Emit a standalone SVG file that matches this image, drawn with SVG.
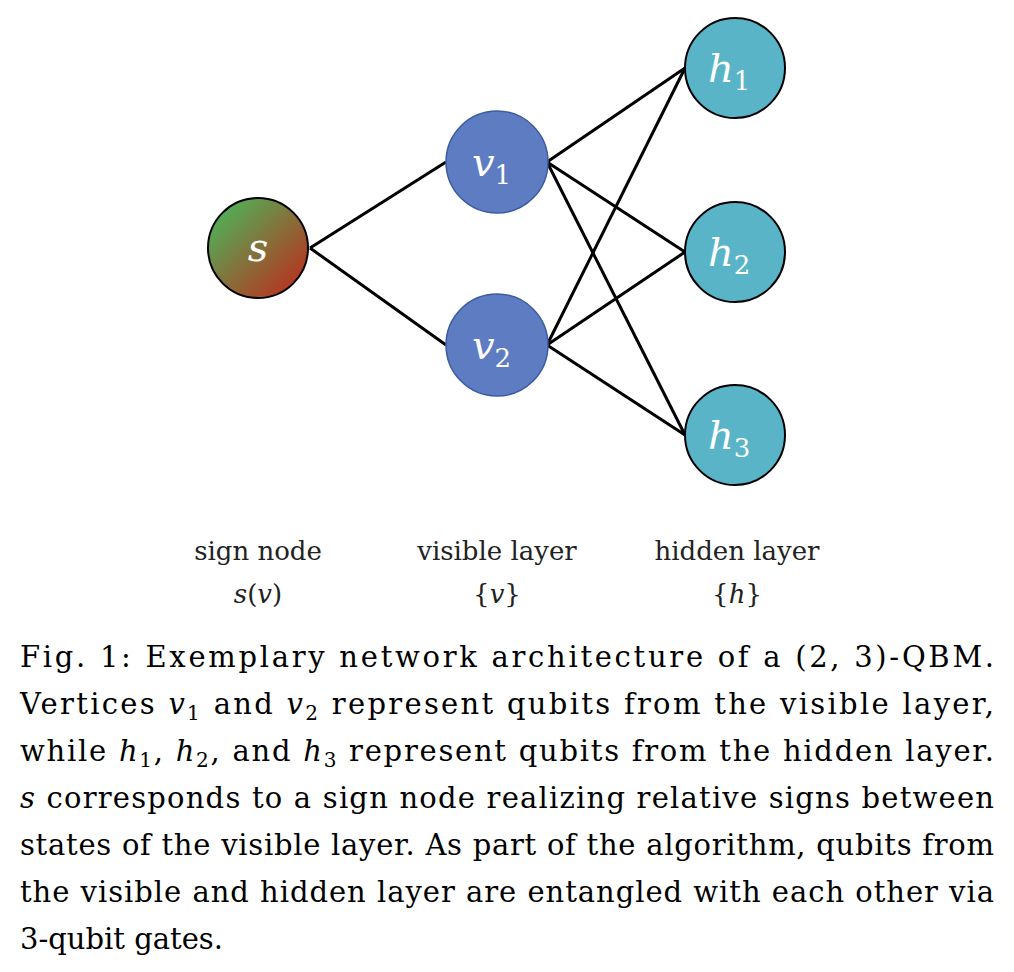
<svg xmlns="http://www.w3.org/2000/svg" width="1014" height="972" viewBox="0 0 1014 972" font-family="'DejaVu Serif', serif">
<style>
.e{stroke:#000;stroke-width:3;fill:none}
.v{fill:#5e7cc2;stroke:#3c5aa0;stroke-width:1.5}
.h{fill:#59b4c8;stroke:#000;stroke-width:2}
.n{font-style:italic;fill:#fff;font-size:40px}
.sb{font-size:26px;font-style:normal}
.t{font-size:26px;fill:#222}
.c{font-size:29px;fill:#000}
.i{font-style:italic}
</style>
<defs>
<linearGradient id="g" x1="0" y1="0" x2="1" y2="1">
<stop offset="0.15" stop-color="#55aa55"/><stop offset="0.85" stop-color="#b23a22"/>
</linearGradient>
</defs>
<g id="connectors">
<line class="e" x1="310" y1="248" x2="446" y2="162"/>
<line class="e" x1="310" y1="248" x2="446" y2="345"/>
<line class="e" x1="547" y1="162" x2="685" y2="68"/>
<line class="e" x1="547" y1="162" x2="685" y2="252"/>
<line class="e" x1="547" y1="162" x2="685" y2="435"/>
<line class="e" x1="547" y1="345" x2="685" y2="68"/>
<line class="e" x1="547" y1="345" x2="685" y2="252"/>
<line class="e" x1="547" y1="345" x2="685" y2="435"/>
</g>
<g id="s"><circle cx="258" cy="248" r="50" fill="url(#g)" stroke="#000" stroke-width="2"/><text class="n" x="258" y="261" text-anchor="middle">s</text></g>
<g id="v1"><circle class="v" cx="497" cy="162" r="51"/><text class="n" x="472" y="176">v<tspan class="sb" dy="8">1</tspan></text></g>
<g id="v2"><circle class="v" cx="497" cy="345" r="51"/><text class="n" x="472" y="359">v<tspan class="sb" dy="8">2</tspan></text></g>
<g id="h1"><circle class="h" cx="735" cy="68" r="50"/><text class="n" x="708" y="82">h<tspan class="sb" dy="8">1</tspan></text></g>
<g id="h2"><circle class="h" cx="735" cy="252" r="50"/><text class="n" x="708" y="266">h<tspan class="sb" dy="8">2</tspan></text></g>
<g id="h3"><circle class="h" cx="735" cy="435" r="50"/><text class="n" x="708" y="449">h<tspan class="sb" dy="8">3</tspan></text></g>
<g id="labels">
<text class="t" x="258" y="560" text-anchor="middle">sign node</text>
<text class="t" x="258" y="603" text-anchor="middle"><tspan class="i">s</tspan>(<tspan class="i">v</tspan>)</text>
<text class="t" x="497" y="560" text-anchor="middle">visible layer</text>
<text class="t" x="497" y="603" text-anchor="middle">{<tspan class="i">v</tspan>}</text>
<text class="t" x="737" y="560" text-anchor="middle">hidden layer</text>
<text class="t" x="737" y="603" text-anchor="middle">{<tspan class="i">h</tspan>}</text>
</g>
<g id="caption">
<text class="c" x="20" y="667" textLength="974">Fig. 1: Exemplary network architecture of a (2, 3)-QBM.</text>
<text class="c" x="20" y="714" textLength="974">Vertices <tspan class="i">v</tspan><tspan font-size="20" dy="6">1</tspan><tspan dy="-6"> and </tspan><tspan class="i">v</tspan><tspan font-size="20" dy="6">2</tspan><tspan dy="-6"> represent qubits from the visible layer,</tspan></text>
<text class="c" x="20" y="761" textLength="974">while <tspan class="i">h</tspan><tspan font-size="20" dy="6">1</tspan><tspan dy="-6">, </tspan><tspan class="i">h</tspan><tspan font-size="20" dy="6">2</tspan><tspan dy="-6">, and </tspan><tspan class="i">h</tspan><tspan font-size="20" dy="6">3</tspan><tspan dy="-6"> represent qubits from the hidden layer.</tspan></text>
<text class="c" x="20" y="808" textLength="974"><tspan class="i">s</tspan> corresponds to a sign node realizing relative signs between</text>
<text class="c" x="20" y="855" textLength="974">states of the visible layer. As part of the algorithm, qubits from</text>
<text class="c" x="20" y="902" textLength="974">the visible and hidden layer are entangled with each other via</text>
<text class="c" x="20" y="949">3-qubit gates.</text>
</g>
</svg>
